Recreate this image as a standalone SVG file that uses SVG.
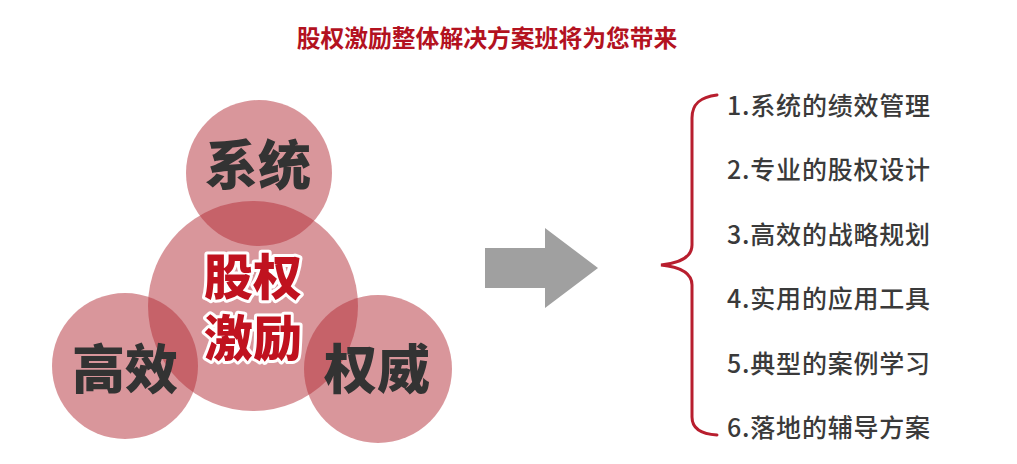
<svg xmlns="http://www.w3.org/2000/svg" width="1017" height="464" viewBox="0 0 1017 464">
<style>
.c{fill:#b32d37;fill-opacity:0.5}
.lbl{font-family:"Noto Sans CJK SC","Noto Sans",sans-serif;font-weight:900;font-size:53px;fill:#333;text-anchor:middle}
.core{font-family:"Noto Sans CJK SC","Noto Sans",sans-serif;font-weight:900;font-size:49px;fill:#c0121f;stroke:#fff;stroke-width:6;paint-order:stroke;stroke-linejoin:round;text-anchor:middle}
.item{font-family:"Noto Sans CJK SC","Noto Sans",sans-serif;font-weight:500;font-size:25px;letter-spacing:0.8px;fill:#3a3a3a}
.title{font-family:"Noto Sans CJK SC","Noto Sans",sans-serif;font-weight:bold;font-size:23.8px;fill:#b3121f;text-anchor:middle}
</style>
<rect width="1017" height="464" fill="#fff"/>
<text class="title" x="487" y="47">股权激励整体解决方案班将为您带来</text>
<g id="node-top"><circle class="c" cx="259" cy="173" r="73"/></g>
<g id="node-center"><circle class="c" cx="253" cy="306" r="105"/></g>
<g id="node-left"><circle class="c" cx="125" cy="366" r="73"/></g>
<g id="node-right"><circle class="c" cx="378" cy="369" r="74"/></g>
<g id="labels">
<text class="lbl" x="258" y="185">系统</text>
<text class="lbl" x="125" y="389">高效</text>
<text class="lbl" x="377" y="389">权威</text>
<text class="core" x="253" y="295">股权<tspan x="253" y="356">激励</tspan></text>
</g>
<g id="connectors">
<polygon points="485,248 545,248 545,228 598,268 545,308 545,288 485,288" fill="#a0a0a0"/>
<path d="M717,95 C700,97 692,104 692,118 L692,245 C692,257 680,263 661,265 C680,267 692,273 692,285 L692,417 C692,428 700,434 717,435" fill="none" stroke="#b81e2e" stroke-width="3" stroke-linecap="round"/>
</g>
<g id="list">
<text class="item" x="727" y="115">1.系统的绩效管理</text>
<text class="item" x="727" y="179">2.专业的股权设计</text>
<text class="item" x="727" y="244">3.高效的战略规划</text>
<text class="item" x="727" y="308">4.实用的应用工具</text>
<text class="item" x="727" y="373">5.典型的案例学习</text>
<text class="item" x="727" y="437">6.落地的辅导方案</text>
</g>
</svg>
